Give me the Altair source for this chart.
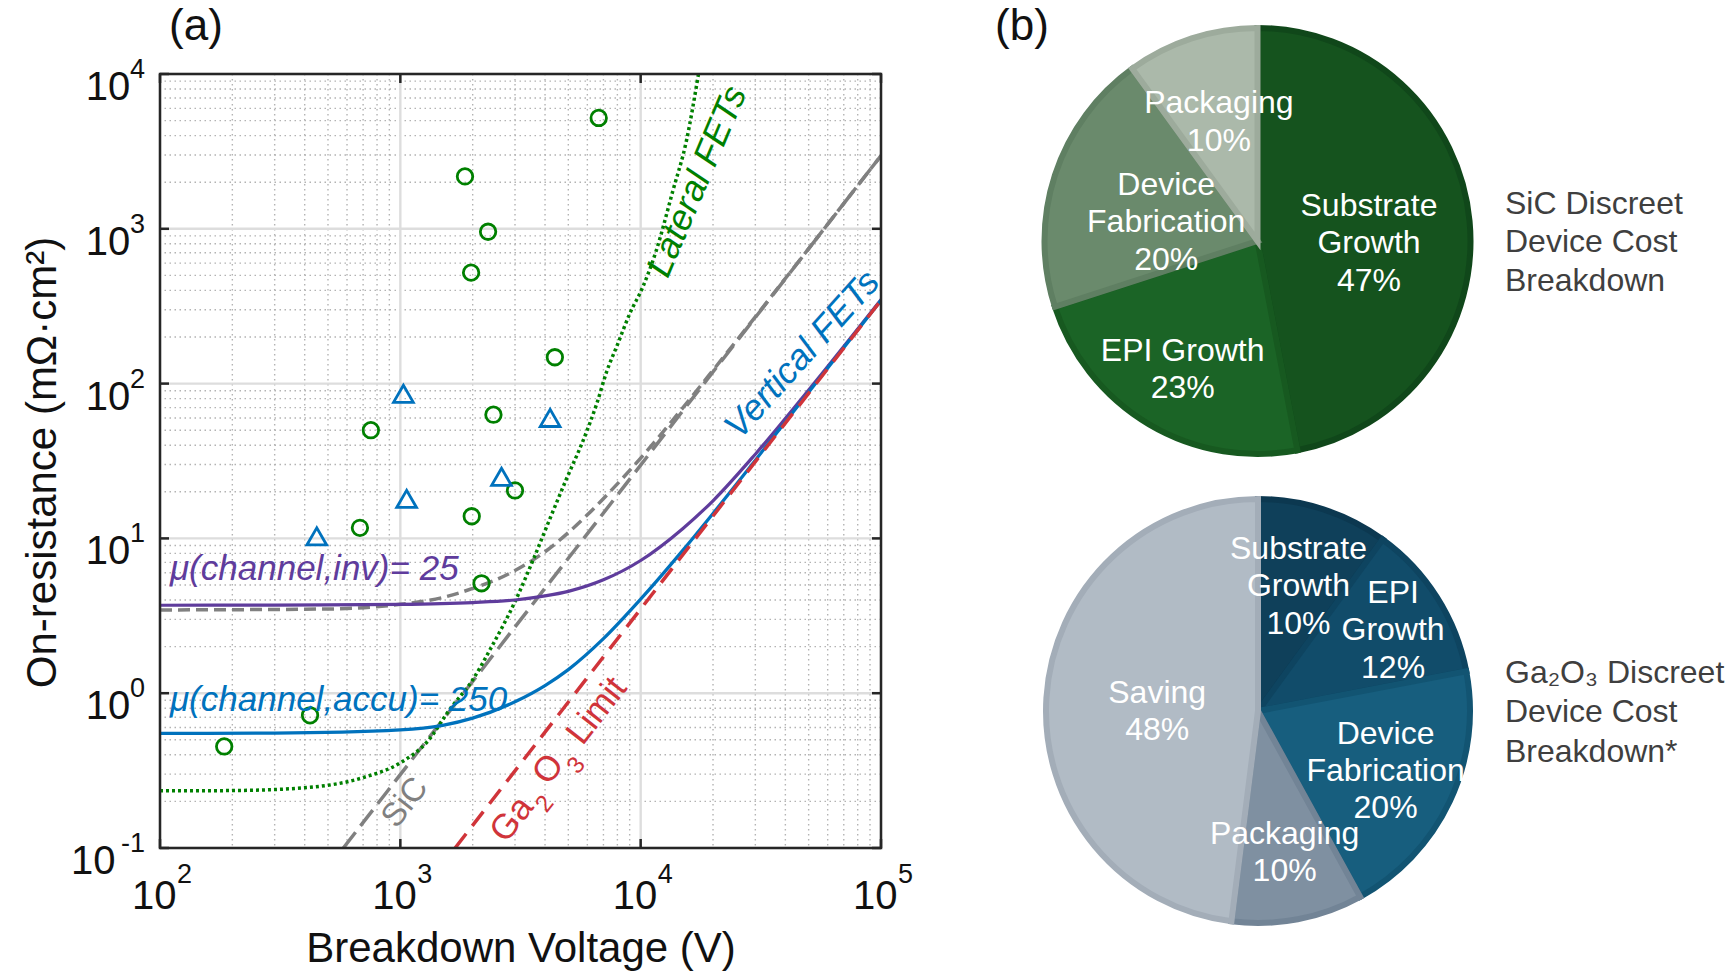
import altair as alt
import pandas as pd

FONT = "Liberation Sans"

# ---------------- panel (a) data ----------------
# green circles: lateral FET devices
lat_v = [6690, 1858, 2318, 1970, 4395, 2440, 754, 3000, 1982, 679, 2177, 421, 185]
lat_r = [5200, 2180, 957, 521, 148, 63, 50, 20.4, 13.9, 11.7, 5.13, 0.72, 0.453]
# blue triangles: vertical FET devices
ver_v = [1030, 4200, 2637, 1062, 449]
ver_r = [86, 60, 25, 18, 10.3]

# Ga2O3 unipolar limit (red dashed)
limit_v = [1690, 10000, 100000]
limit_r = [0.1, 3.5, 345]
# SiC limit (grey dashed)
sic_v = [579, 100000]
sic_r = [0.1, 2970]
# SiC with channel (grey dash)
sicch_v = [100, 500, 1000, 1500, 2000, 2500, 3000, 4000, 5000, 6000, 8000, 10000, 15000, 20000, 30000, 50000, 100000]
sicch_r = [3.45, 3.5, 3.75, 4.15, 4.75, 5.4, 6.2, 8.2, 10.9, 14.2, 22.5, 33, 70, 122, 270, 745, 2970]
# mu(channel,inv) = 25 (purple)
inv_v = [100, 300, 1000, 2000, 3000, 4000, 5000, 7000, 10000, 15000, 20000, 30000, 50000, 100000]
inv_r = [3.7, 3.71, 3.75, 3.85, 4.0, 4.25, 4.55, 5.4, 7.2, 11.6, 17.5, 35, 91, 349]
# mu(channel,accu) = 250 (blue)
accu_v = [100, 300, 1000, 1500, 2000, 3000, 4000, 5000, 7000, 10000, 15000, 20000, 30000, 50000, 100000]
accu_r = [0.55, 0.553, 0.58, 0.62, 0.69, 0.88, 1.12, 1.42, 2.25, 4.05, 8.4, 14.5, 32, 88, 345]
# lateral FETs (green dotted)
latl_v = [100, 200, 400, 700, 1000, 1300, 1600, 2000, 2400, 3000, 3600, 4200, 4900, 5800, 6600, 7200, 8000, 9000, 10200, 11600, 13600, 15500, 17400]
latl_r = [0.234, 0.235, 0.245, 0.285, 0.355, 0.49, 0.78, 1.22, 2.0, 3.9, 7.5, 13.5, 24, 44, 76, 118, 178, 282, 420, 720, 1750, 3700, 10000]

x_ticks = [100, 1000, 10000, 100000]
x_exps = ["2", "3", "4", "5"]
y_ticks = [0.1, 1, 10, 100, 1000, 10000]
y_exps = ["-1", "0", "1", "2", "3", "4"]
x_minor = [m * d for d in (100, 1000, 10000) for m in range(2, 10)]
y_minor = [m * d for d in (0.1, 1, 10, 100, 1000) for m in range(2, 10)]

# annotation texts (anchor in data space)
lateral_txt, lateral_pos = "Lateral FETs", (17200, 2020)
vertical_txt, vertical_pos = "Vertical FETs", (47100, 154)
inv_txt, inv_pos = "μ(channel,inv)= 25", (110, 6.3)
accu_txt, accu_pos = "μ(channel,accu)= 250", (110, 0.91)
sic_txt, sic_pos = "SiC", (1045, 0.197)
ga_parts = ["Ga", "2", "O", "3", "Limit"]
ga_parts_v = [2904, 4000, 4128, 5418, 6555]
ga_parts_r = [0.154, 0.192, 0.324, 0.340, 0.771]

# ---------------- panel (b) data ----------------
sic_cats = ["Substrate\nGrowth", "EPI Growth", "Device\nFabrication", "Packaging"]
sic_vals = [47, 23, 20, 10]
ga_cats = ["Substrate\nGrowth", "EPI\nGrowth", "Device\nFabrication", "Packaging", "Saving"]
ga_vals = [10, 12, 20, 10, 48]
sic_title = "SiC Discreet\nDevice Cost\nBreakdown"
ga_title = "Ga₂O₃ Discreet\nDevice Cost\nBreakdown*"

sic_colors = ["#15531e", "#1b6426", "#6a8a6c", "#abb9aa"]
sic_edges = ["#10471a", "#175920", "#5f7f62", "#9dab9c"]
ga_colors = ["#0f405a", "#114c6a", "#175e7e", "#7f90a1", "#b1bbc5"]
ga_edges = ["#0c3850", "#0e4460", "#125472", "#728496", "#a3adb8"]

# ---------------- layout ----------------
W, H = 721, 774
PL, PT = 160, 74
AX = "#262626"
TXT = "#111111"
GREEN, BLUE, PURPLE, RED, GREY = "#008000", "#0072BD", "#5f3c9c", "#d0343a", "#808080"

xs = alt.Scale(type="log", domain=[100, 100000], nice=False)
ys = alt.Scale(type="log", domain=[0.1, 10000], nice=False)

xaxis = alt.Axis(values=x_ticks, labels=False, grid=False, ticks=False, tickSize=0, domain=False,
                 title="Breakdown Voltage (V)", titleFont=FONT, titleFontSize=42,
                 titleFontWeight="normal", titleColor=TXT, titleX=360.5, titleY=100,
                 titleBaseline="middle", titleAlign="center")
yaxis = alt.Axis(values=y_ticks, labels=False, grid=False, ticks=False, tickSize=0, domain=False,
                 title="On-resistance (mΩ·cm²)", titleFont=FONT, titleFontSize=42,
                 titleFontWeight="normal", titleColor=TXT, titleX=-118, titleY=388,
                 titleAngle=270, titleBaseline="middle", titleAlign="center")


def xq(field="V"):
    return alt.X(f"{field}:Q", scale=xs, axis=xaxis)


def yq(field="R"):
    return alt.Y(f"{field}:Q", scale=ys, axis=yaxis)


layers = []
# grid
layers.append(alt.Chart(pd.DataFrame({"V": x_minor})).mark_rule(
    color="#b3b3b3", strokeWidth=1.4, strokeDash=[1.5, 3.5]).encode(x=xq()))
layers.append(alt.Chart(pd.DataFrame({"R": y_minor})).mark_rule(
    color="#b3b3b3", strokeWidth=1.4, strokeDash=[1.5, 3.5]).encode(y=yq()))
layers.append(alt.Chart(pd.DataFrame({"V": x_ticks})).mark_rule(
    color="#dddddd", strokeWidth=2.4).encode(x=xq()))
layers.append(alt.Chart(pd.DataFrame({"R": y_ticks})).mark_rule(
    color="#dddddd", strokeWidth=2.4).encode(y=yq()))


def curve(v, r, color, width, dash=None):
    kw = dict(color=color, strokeWidth=width, clip=True, interpolate="monotone")
    if dash:
        kw["strokeDash"] = dash
    return alt.Chart(pd.DataFrame({"V": v, "R": r})).mark_line(**kw).encode(x=xq(), y=yq())


layers.append(curve(sic_v, sic_r, GREY, 3.5, [20, 8]))
layers.append(curve(sicch_v, sicch_r, GREY, 3.5, [12, 6]))
layers.append(curve(latl_v, latl_r, GREEN, 3.5, [3, 3]))
layers.append(curve(inv_v, inv_r, PURPLE, 3.2))
layers.append(curve(accu_v, accu_r, BLUE, 3.2))
layers.append(curve(limit_v, limit_r, RED, 3.5, [18, 10]))

# scatter points
layers.append(alt.Chart(pd.DataFrame({"V": lat_v, "R": lat_r})).mark_point(
    shape="circle", size=240, color=GREEN, strokeWidth=2.8, filled=False, opacity=1).encode(
    x=xq(), y=yq()))
layers.append(alt.Chart(pd.DataFrame({"V": ver_v, "R": ver_r})).mark_point(
    shape="triangle-up", size=390, color=BLUE, strokeWidth=2.8, filled=False, opacity=1).encode(
    x=xq(), y=yq()))


def ann(text, v, r, color, size, angle=0, italic=False, align="center"):
    kw = dict(color=color, fontSize=size, font=FONT, align=align, baseline="middle")
    if angle:
        kw["angle"] = angle
    if italic:
        kw["fontStyle"] = "italic"
    return alt.Chart(pd.DataFrame({"V": [v], "R": [r], "t": [text]})).mark_text(**kw).encode(
        x=xq(), y=yq(), text="t:N")


layers.append(ann(lateral_txt, *lateral_pos, GREEN, 36, 293, True))
layers.append(ann(vertical_txt, *vertical_pos, BLUE, 36, 312, True))
layers.append(ann(inv_txt, *inv_pos, PURPLE, 35, 0, True, "left"))
layers.append(ann(accu_txt, *accu_pos, BLUE, 35, 0, True, "left"))
layers.append(ann(sic_txt, *sic_pos, GREY, 33, 308))
for t, v, r in zip(ga_parts, ga_parts_v, ga_parts_r):
    layers.append(ann(t, v, r, RED, 24 if t in ("2", "3") else 35, 308))

# inward ticks + box
tx = alt.Chart(pd.DataFrame({"V": x_ticks}))
ty = alt.Chart(pd.DataFrame({"R": y_ticks}))
layers.append(tx.mark_rule(color=AX, strokeWidth=2.5).encode(x=xq(), y=alt.value(H), y2=alt.value(H - 9)))
layers.append(tx.mark_rule(color=AX, strokeWidth=2.5).encode(x=xq(), y=alt.value(0), y2=alt.value(9)))
layers.append(ty.mark_rule(color=AX, strokeWidth=2.5).encode(y=yq(), x=alt.value(0), x2=alt.value(9)))
layers.append(ty.mark_rule(color=AX, strokeWidth=2.5).encode(y=yq(), x=alt.value(W - 9), x2=alt.value(W)))
layers.append(alt.Chart(pd.DataFrame({"a": [0]})).mark_rect(
    fillOpacity=0, stroke=AX, strokeWidth=2.5).encode(
    x=alt.value(0), x2=alt.value(W), y=alt.value(0), y2=alt.value(H)))

# tick labels: "10" with a raised exponent
xlab = alt.Chart(pd.DataFrame({"V": x_ticks, "exp": x_exps}))
layers.append(xlab.mark_text(align="right", baseline="middle", fontSize=40, font=FONT,
                             color=TXT, dx=16.5).encode(
    x=xq(), y=alt.value(H + 49), text=alt.value("10")))
layers.append(xlab.mark_text(align="left", baseline="middle", fontSize=27, font=FONT,
                             color=TXT, dx=17).encode(
    x=xq(), y=alt.value(H + 27), text="exp:N"))
ylab = alt.Chart(pd.DataFrame({"R": y_ticks, "exp": y_exps}))
layers.append(ylab.transform_calculate(
    bx="-15 - length(datum.exp) * 14.75").mark_text(
    align="right", baseline="middle", fontSize=40, font=FONT, color=TXT, dy=14).encode(
    x=alt.X("bx:Q", scale=None), y=yq(), text=alt.value("10")))
layers.append(ylab.mark_text(align="right", baseline="middle", fontSize=27, font=FONT,
                             color=TXT, dy=-4).encode(
    x=alt.value(-15), y=yq(), text="exp:N"))

PIE_FS, PIE_LH = 32, 37.4


# ---------------- pies ----------------
def pie(cats, vals, colors, edges, cx, cy, r, radii, extra_dy):
    df = pd.DataFrame({"cat": cats, "value": vals, "idx": list(range(len(cats)))})
    out = [alt.Chart(df).mark_arc(outerRadius=r, strokeWidth=6).encode(
        theta=alt.Theta("value:Q", stack=True),
        color=alt.Color("cat:N", scale=alt.Scale(domain=cats, range=colors), legend=None),
        stroke=alt.Stroke("cat:N", scale=alt.Scale(domain=cats, range=edges), legend=None),
        order=alt.Order("idx:Q"),
        x=alt.value(cx), y=alt.value(cy))]
    for i, (rr, ed) in enumerate(zip(radii, extra_dy)):
        n_lines = cats[i].count("\n") + 2
        out.append(alt.Chart(df).transform_window(
            cum="sum(value)", sort=[alt.SortField("idx")], frame=[None, 0]
        ).transform_calculate(
            mid="datum.cum - datum.value / 2",
            label="datum.cat + '\\n' + datum.value + '%'"
        ).transform_filter(f"datum.idx == {i}").mark_text(
            radius=rr, fontSize=PIE_FS, font=FONT, color="white", lineBreak="\n",
            lineHeight=PIE_LH, align="center", baseline="middle",
            dy=-(n_lines - 1) * PIE_LH / 2 + ed).encode(
            theta=alt.Theta("mid:Q", stack=False, scale=alt.Scale(domain=[0, 100])),
            text="label:N", x=alt.value(cx), y=alt.value(cy)))
    return out


layers += pie(sic_cats, sic_vals, sic_colors, sic_edges, 1097.5, 167, 213,
              [112, 147, 96, 125], [13, 2, 11, 0])
layers += pie(ga_cats, ga_vals, ga_colors, ga_edges, 1098, 637, 212,
              [131, 160, 141, 142, 101], [0, 5, 0, 2, 7])


def free_text(t, x, y, size, color, align="left", lh=38):
    n_lines = t.count("\n") + 1
    kw = dict(align=align, baseline="middle", fontSize=size, color=color, font=FONT)
    if n_lines > 1:
        kw.update(lineBreak="\n", lineHeight=lh, dy=-(n_lines - 1) * lh / 2)
    return alt.Chart(pd.DataFrame({"t": [t]})).mark_text(**kw).encode(
        text="t:N", x=alt.value(x), y=alt.value(y))


layers.append(free_text(sic_title, 1345, 168, 32, "#3f3f3f", lh=38.5))
layers.append(free_text(ga_title, 1345, 638, 32, "#3f3f3f", lh=39.5))
layers.append(free_text("(a)", 36, -47, 44, TXT, "center"))
layers.append(free_text("(b)", 862, -47, 44, TXT, "center"))

chart = alt.layer(*layers).resolve_scale(
    color="independent", stroke="independent", theta="independent"
).properties(
    width=W, height=H,
    padding={"left": PL, "top": PT, "right": 1725 - PL - W, "bottom": 975 - PT - H},
    autosize=alt.AutoSizeParams(type="none"),
).configure_view(strokeWidth=0)

chart.save("out.html", embed_options={"renderer": "svg", "actions": False})
